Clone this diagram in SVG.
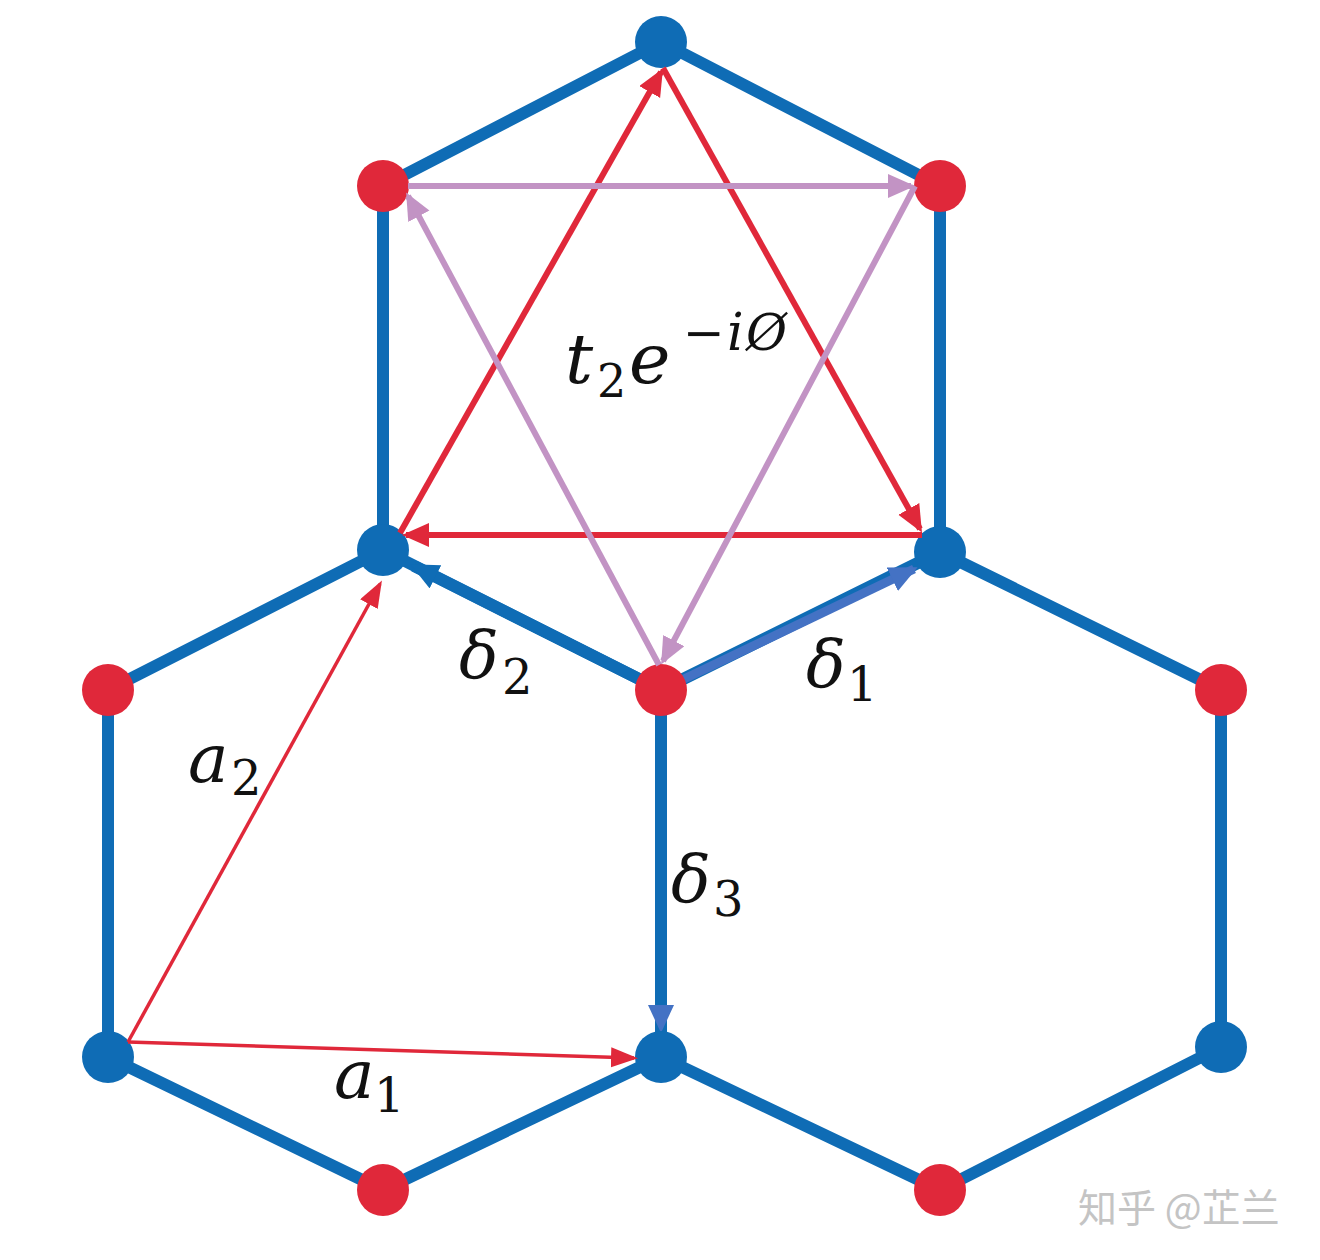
<svg xmlns="http://www.w3.org/2000/svg" width="1320" height="1260" viewBox="0 0 1320 1260">
<style>
.edge{stroke:#0f6cb5;stroke-width:12;fill:none;stroke-linecap:round}
.bn{fill:#0f6cb5}
.rn{fill:#e0283a}
.ra{stroke:#e0283a;stroke-width:6;fill:none}
.pa{stroke:#c293c4;stroke-width:6;fill:none}
.ta{stroke:#e0283a;stroke-width:3.5;fill:none}
.lbl{font-family:"DejaVu Serif","Liberation Serif",serif;font-style:italic;fill:#111}
.sub{font-family:"DejaVu Serif","Liberation Serif",serif;fill:#111}
.wm{font-family:"Noto Sans CJK SC","Noto Sans",sans-serif;fill:#c4c4c4;font-size:39px}
</style>
<defs>
<marker id="hr" markerUnits="userSpaceOnUse" markerWidth="30" markerHeight="26" refX="23" refY="12" orient="auto"><path d="M0,0 L27,12 L0,24 z" fill="#e0283a"/></marker>
<marker id="hp" markerUnits="userSpaceOnUse" markerWidth="30" markerHeight="26" refX="23" refY="12" orient="auto"><path d="M0,0 L27,12 L0,24 z" fill="#c293c4"/></marker>
<marker id="ht" markerUnits="userSpaceOnUse" markerWidth="28" markerHeight="22" refX="23" refY="10" orient="auto"><path d="M0,0 L27,10 L0,20 z" fill="#e0283a"/></marker>
<marker id="hb" markerUnits="userSpaceOnUse" markerWidth="30" markerHeight="28" refX="24" refY="13" orient="auto"><path d="M0,0 L28,13 L0,26 z" fill="#0f6cb5"/></marker>
<marker id="hb2" markerUnits="userSpaceOnUse" markerWidth="30" markerHeight="28" refX="24" refY="13" orient="auto"><path d="M0,0 L28,13 L0,26 z" fill="#4472c4"/></marker>
</defs>
<rect width="1320" height="1260" fill="#ffffff"/>
<g id="connectors">
<g id="lattice">
<line class="edge" x1="661" y1="42" x2="383" y2="186"/>
<line class="edge" x1="661" y1="42" x2="940" y2="186"/>
<line class="edge" x1="383" y1="186" x2="383" y2="550"/>
<line class="edge" x1="940" y1="186" x2="940" y2="552"/>
<line class="edge" x1="383" y1="550" x2="661" y2="690"/>
<line class="edge" x1="661" y1="690" x2="940" y2="552"/>
<line class="edge" x1="383" y1="550" x2="108" y2="690"/>
<line class="edge" x1="108" y1="690" x2="108" y2="1057"/>
<line class="edge" x1="108" y1="1057" x2="383" y2="1190"/>
<line class="edge" x1="383" y1="1190" x2="661" y2="1057"/>
<line class="edge" x1="661" y1="690" x2="661" y2="1057"/>
<line class="edge" x1="940" y1="552" x2="1221" y2="690"/>
<line class="edge" x1="1221" y1="690" x2="1221" y2="1047"/>
<line class="edge" x1="1221" y1="1047" x2="940" y2="1190"/>
<line class="edge" x1="940" y1="1190" x2="661" y2="1057"/>
</g>
<g id="delta-arrows">
<line stroke="#0f6cb5" stroke-width="12" x1="661" y1="690" x2="414" y2="566" marker-end="url(#hb)"/>
<line stroke="#4472c4" stroke-width="9" x1="661" y1="690" x2="914" y2="569" marker-end="url(#hb2)"/>
<line stroke="#0f6cb5" stroke-width="12" x1="661" y1="690" x2="661" y2="1029" marker-end="url(#hb2)"/>
</g>
</g>
<g id="nodes">
<g id="n-top"><circle class="bn" cx="661" cy="42" r="26"/></g>
<g id="n-tl"><circle class="rn" cx="383" cy="186" r="26"/></g>
<g id="n-tr"><circle class="rn" cx="940" cy="186" r="26"/></g>
<g id="n-ml"><circle class="bn" cx="383" cy="550" r="26"/></g>
<g id="n-mr"><circle class="bn" cx="940" cy="552" r="26"/></g>
<g id="n-c"><circle class="rn" cx="661" cy="690" r="26"/></g>
<g id="n-l"><circle class="rn" cx="108" cy="690" r="26"/></g>
<g id="n-r"><circle class="rn" cx="1221" cy="690" r="26"/></g>
<g id="n-bl"><circle class="bn" cx="108" cy="1057" r="26"/></g>
<g id="n-bc"><circle class="bn" cx="661" cy="1057" r="26"/></g>
<g id="n-br"><circle class="bn" cx="1221" cy="1047" r="26"/></g>
<g id="n-b"><circle class="rn" cx="383" cy="1190" r="26"/></g>
<g id="n-bbr"><circle class="rn" cx="940" cy="1190" r="26"/></g>
</g>
<g id="hopping-arrows">
<line class="ra" x1="400" y1="533" x2="661" y2="72" marker-end="url(#hr)"/>
<line class="ra" x1="663" y1="68" x2="920" y2="529" marker-end="url(#hr)"/>
<line class="ra" x1="922" y1="535" x2="406" y2="535" marker-end="url(#hr)"/>
<line class="pa" x1="408" y1="186" x2="911" y2="186" marker-end="url(#hp)"/>
<line class="pa" x1="915" y1="186" x2="663" y2="661" marker-end="url(#hp)"/>
<line class="pa" x1="659" y1="665" x2="408" y2="196" marker-end="url(#hp)"/>
<line class="ta" x1="128" y1="1042" x2="634" y2="1058" marker-end="url(#ht)"/>
<line class="ta" x1="128" y1="1042" x2="380" y2="584" marker-end="url(#ht)"/>
</g>
<g id="labels">
<text class="lbl" x="565" y="383" font-size="70">t</text>
<text class="sub" x="597" y="397" font-size="46">2</text>
<text class="lbl" x="629" y="383" font-size="70">e</text>
<text class="sub" x="683" y="350" font-size="50">−</text>
<text class="lbl" x="727" y="350" font-size="52">i</text>
<text class="lbl" x="746" y="350" font-size="50">Ø</text>
<text class="lbl" x="459" y="678" font-size="66">δ</text>
<text class="sub" x="502" y="694" font-size="48">2</text>
<text class="lbl" x="806" y="687" font-size="66">δ</text>
<text class="sub" x="847" y="701" font-size="48">1</text>
<text class="lbl" x="671" y="902" font-size="66">δ</text>
<text class="sub" x="713" y="916" font-size="48">3</text>
<text class="lbl" x="188" y="782" font-size="68">a</text>
<text class="sub" x="231" y="795" font-size="48">2</text>
<text class="lbl" x="334" y="1098" font-size="68">a</text>
<text class="sub" x="374" y="1112" font-size="48">1</text>
<text class="wm" x="1078" y="1222">知乎 @芷兰</text>
</g>
</svg>
